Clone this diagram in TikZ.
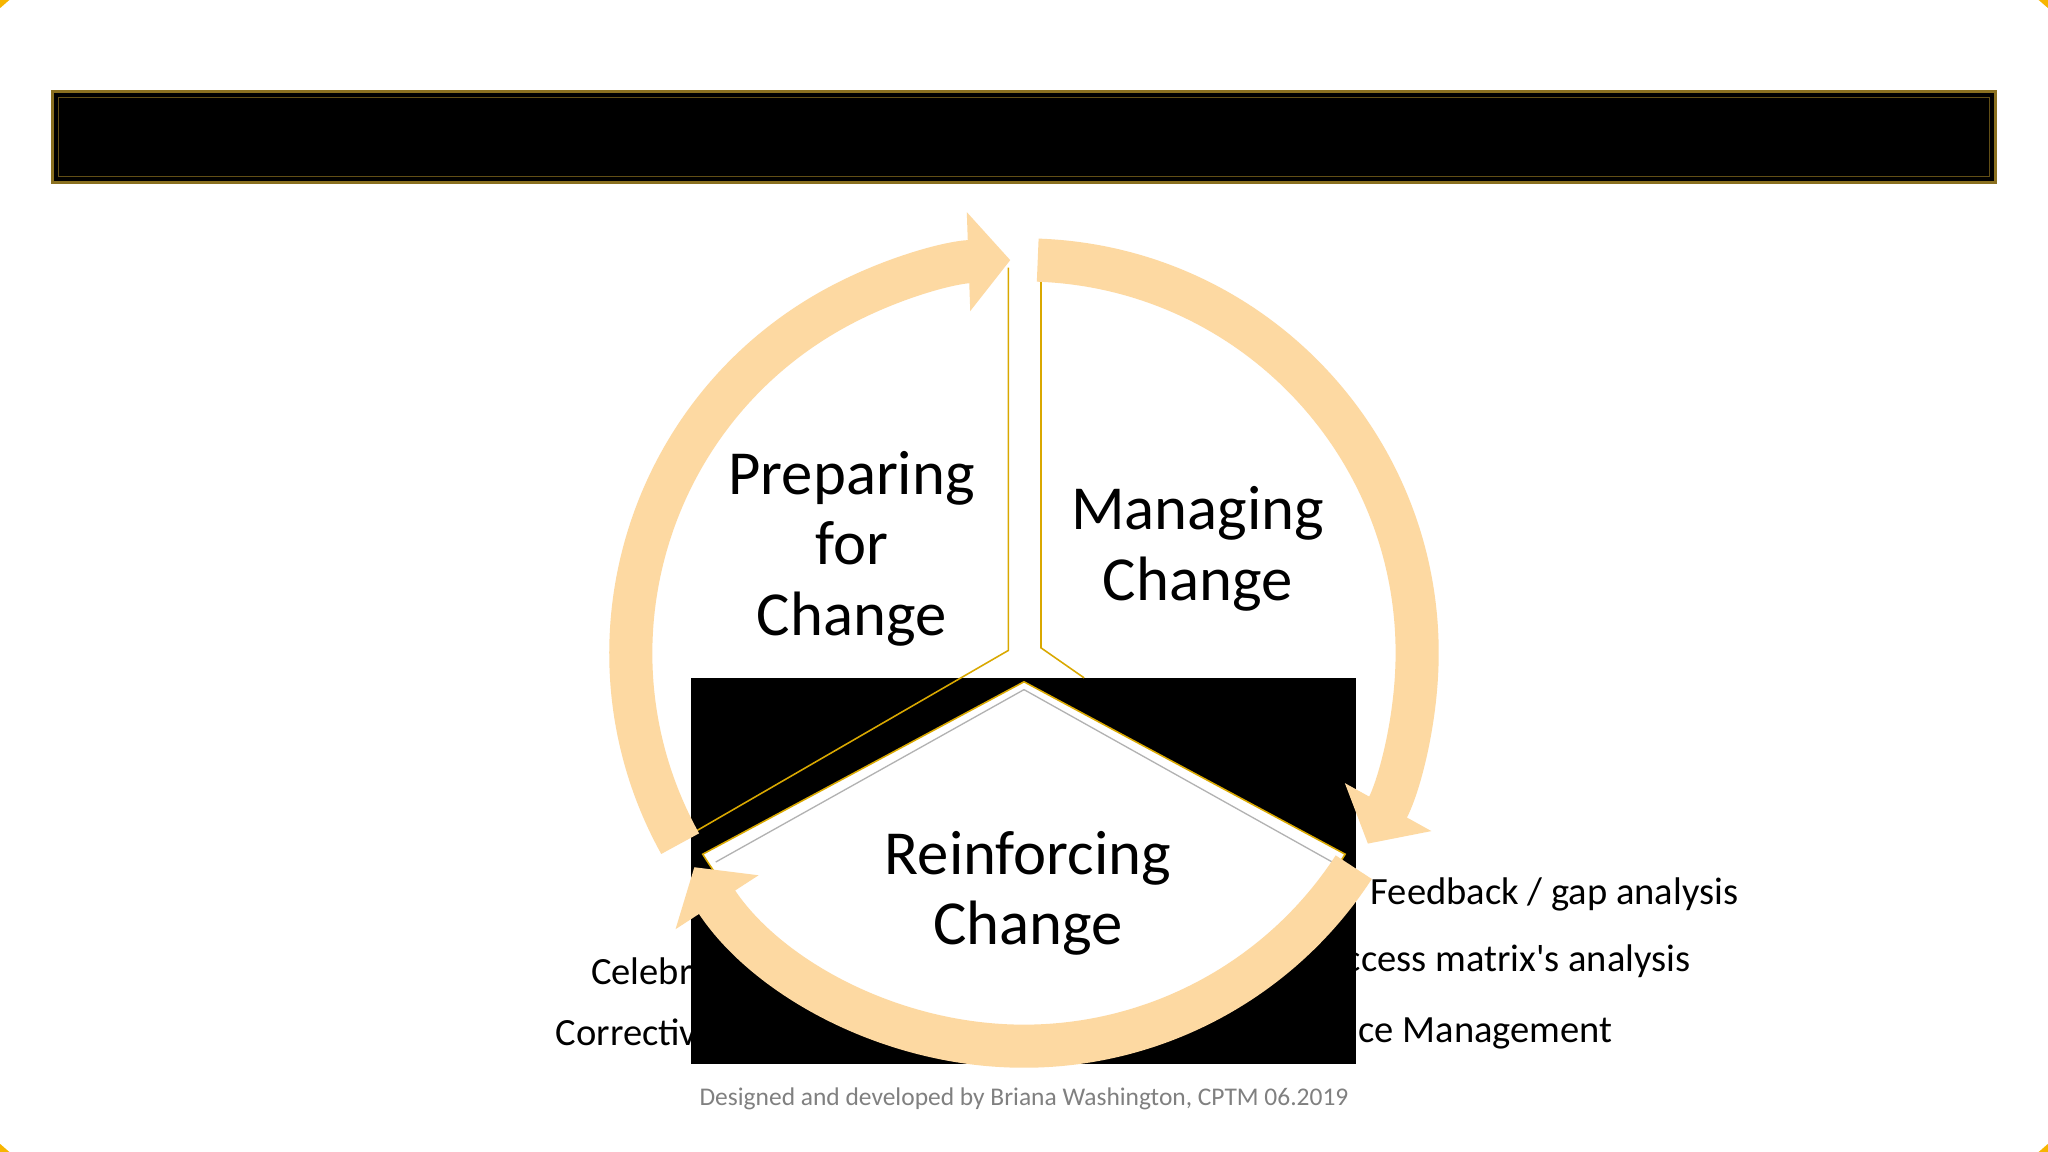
\documentclass[tikz,border=0pt]{standalone}
\usepackage{fontspec}
\setmainfont{Carlito}[Ligatures=TeXOff]
\usetikzlibrary{arrows.meta}
\definecolor{ringc}{HTML}{FDD9A2}
\definecolor{goldc}{HTML}{D9A800}
\definecolor{barb}{HTML}{8A7020}
\definecolor{paleg}{HTML}{FFF6DC}
\definecolor{yelg}{HTML}{FCDD6A}
\definecolor{orag}{HTML}{F7B500}
\pgfdeclareradialshading{glow}{\pgfpoint{0bp}{0bp}}{color(0bp)=(white); color(31bp)=(white); color(38bp)=(paleg); color(45bp)=(yelg); color(50bp)=(orag)}
\tikzset{
  ringarrow/.style={draw=ringc, line width=33pt, -{Triangle[width=74pt,length=32pt]}},
  sector/.style={fill=white, draw=goldc, line width=1.2pt},
  biglabel/.style={font=\fontsize{48}{54}\selectfont, align=center, text=black},
  bullet/.style={font=\fontsize{29.5}{32}\selectfont, anchor=west, text=black},
}
\begin{document}
\begin{tikzpicture}[x=1pt,y=1pt]
\useasboundingbox (0,0) rectangle (1568,882);
\begin{scope}
\clip (0,0) rectangle (1568,882);
\fill[orag] (0,0) rectangle (1568,882);
\shade[shading=glow] (784,441) ellipse [x radius=1000, y radius=700];
\end{scope}
% title bar
\draw[fill=black, draw=barb, line width=2.5pt] (40,742) rectangle (1528,812);
\draw[draw=barb!70!black, line width=0.8pt] (45,747) rectangle (1523,807);
\coordinate (c) at (784,382);
% white disk
\fill[white] (c) circle[radius=287];
% side texts (partly hidden)
\node[bullet] (t1) at (1046,197) {Feedback / gap analysis};
\node[bullet] (t2) at (1026,146) {ccess matrix's analysis};
\node[bullet] (t3) at (1021,91) {nce Management};
\node[bullet] (t4) at (449,138) {Celebr};
\node[bullet] (t5) at (422,92) {Correctiv};
% black rectangle
\fill[black] (529,67) rectangle (1038,363);
% separators
\draw[goldc, line width=1.2pt] (772,677) -- (772,384) -- (530,244);
\draw[goldc, line width=1.2pt] (797,677) -- (797,386) -- (830,363);
% reinforcing sector
\draw[sector] (784,360) -- (538,228) arc[start angle=212,end angle=328,radius=290] -- cycle;
\draw[gray!60, line width=1pt] (784,354) -- (548,222);
\draw[gray!60, line width=1pt] (784,354) -- (1020,222);
% ring arrows
\draw[ringarrow] (c) ++(209:301) arc[start angle=209,end angle=92,radius=301];
\draw[ringarrow] (c) ++(88:301) arc[start angle=88,end angle=-29,radius=301];
\draw[ringarrow] (c) ++(-33:301) arc[start angle=-33,end angle=-147,radius=301];
% labels
\node[biglabel] (p) at (652,462) {Preparing\\for\\Change};
\node[biglabel] (m) at (917,462) {Managing\\Change};
\node[biglabel] (r) at (787,198) {Reinforcing\\Change};
\node[font=\fontsize{19.5}{22}\selectfont, text=gray] (f) at (784,41) {Designed and developed by Briana Washington, CPTM 06.2019};
\end{tikzpicture}
\end{document}
